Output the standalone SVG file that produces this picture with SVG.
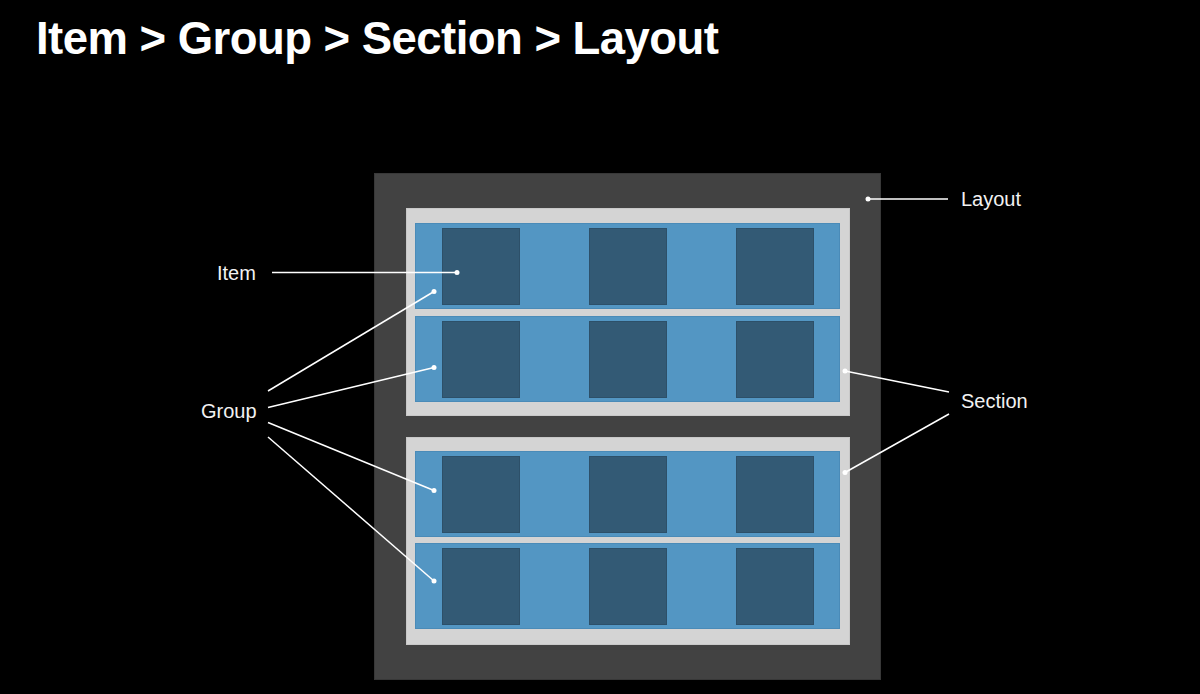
<svg xmlns="http://www.w3.org/2000/svg" width="1200" height="694" viewBox="0 0 1200 694">
<style>
.title{font-family:"Liberation Sans",Arial,sans-serif;font-weight:bold;font-size:45.5px;fill:#ffffff}
.lbl{font-family:"Liberation Sans",Arial,sans-serif;font-size:20px;fill:#f2f2f2}
.layout{fill:#424242;stroke:#383838;stroke-width:1}
.section{fill:#d4d4d4;stroke:#c8c8c8;stroke-width:1}
.group{fill:#5396c3;stroke:#4a8bb8;stroke-width:1}
.item{fill:#335a75;stroke:#2d5069;stroke-width:1}
.ln{stroke:#ffffff;stroke-width:1.5;fill:none}
.dot{fill:#ffffff}
</style>
<rect x="0" y="0" width="1200" height="694" fill="#000000"/>
<text class="title" x="36" y="53.5" textLength="683" lengthAdjust="spacing">Item &gt; Group &gt; Section &gt; Layout</text>

<g id="layout">
<rect class="layout" x="374.5" y="173.5" width="506" height="506"/>
</g>
<g id="section1">
<rect class="section" x="406.5" y="208.5" width="443" height="207"/>
</g>
<g id="section2">
<rect class="section" x="406.5" y="437.5" width="443" height="207"/>
</g>
<g id="group1">
<rect class="group" x="415.5" y="223.5" width="424" height="85"/>
<rect class="item" x="442.5" y="228.5" width="77" height="76"/>
<rect class="item" x="589.5" y="228.5" width="77" height="76"/>
<rect class="item" x="736.5" y="228.5" width="77" height="76"/>
</g>
<g id="group2">
<rect class="group" x="415.5" y="316.5" width="424" height="85"/>
<rect class="item" x="442.5" y="321.5" width="77" height="76"/>
<rect class="item" x="589.5" y="321.5" width="77" height="76"/>
<rect class="item" x="736.5" y="321.5" width="77" height="76"/>
</g>
<g id="group3">
<rect class="group" x="415.5" y="451.5" width="424" height="85"/>
<rect class="item" x="442.5" y="456.5" width="77" height="76"/>
<rect class="item" x="589.5" y="456.5" width="77" height="76"/>
<rect class="item" x="736.5" y="456.5" width="77" height="76"/>
</g>
<g id="group4">
<rect class="group" x="415.5" y="543.5" width="424" height="85"/>
<rect class="item" x="442.5" y="548.5" width="77" height="76"/>
<rect class="item" x="589.5" y="548.5" width="77" height="76"/>
<rect class="item" x="736.5" y="548.5" width="77" height="76"/>
</g>

<g id="labels">
<text class="lbl" x="961" y="206">Layout</text>
<text class="lbl" x="217" y="280">Item</text>
<text class="lbl" x="201" y="418">Group</text>
<text class="lbl" x="961" y="408">Section</text>
</g>

<g id="connectors">
<line class="ln" x1="948" y1="199" x2="868" y2="199"/>
<circle class="dot" cx="868" cy="199" r="2.5"/>
<line class="ln" x1="272" y1="272.5" x2="457" y2="272.5"/>
<circle class="dot" cx="457" cy="272.5" r="2.5"/>
<line class="ln" x1="268" y1="391" x2="434" y2="291.5"/>
<circle class="dot" cx="434" cy="291.5" r="2.5"/>
<line class="ln" x1="268" y1="407.5" x2="434" y2="367.5"/>
<circle class="dot" cx="434" cy="367.5" r="2.5"/>
<line class="ln" x1="268" y1="422.5" x2="434" y2="490.5"/>
<circle class="dot" cx="434" cy="490.5" r="2.5"/>
<line class="ln" x1="268" y1="437" x2="434" y2="581"/>
<circle class="dot" cx="434" cy="581" r="2.5"/>
<line class="ln" x1="949" y1="392" x2="845" y2="371"/>
<circle class="dot" cx="845" cy="371" r="2.5"/>
<line class="ln" x1="949" y1="414" x2="845" y2="472.5"/>
<circle class="dot" cx="845" cy="472.5" r="2.5"/>
</g>
</svg>
